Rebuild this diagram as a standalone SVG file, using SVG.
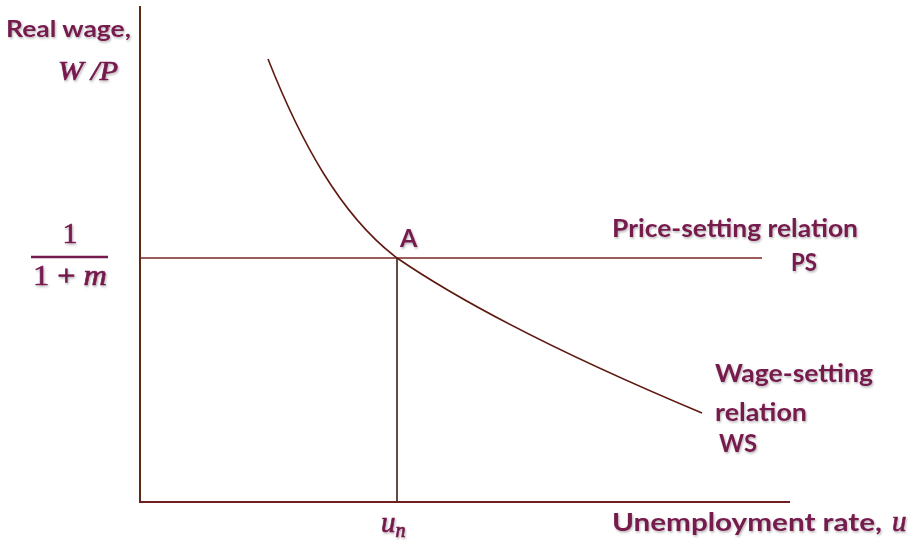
<svg xmlns="http://www.w3.org/2000/svg" width="917" height="557" viewBox="0 0 917 557">
<defs>
<filter id="sh" x="-5%" y="-20%" width="110%" height="150%">
<feDropShadow dx="1" dy="1.5" stdDeviation="0.8" flood-color="#000" flood-opacity="0.3"/>
</filter>
</defs>
<style>
.lbl{font-family:Lato,"Open Sans","Liberation Sans",sans-serif;font-weight:bold;fill:#751a4d;filter:url(#sh)}
.math{font-family:"Liberation Serif","DejaVu Serif",serif;fill:#751a4d;stroke:#751a4d;stroke-width:0.7;filter:url(#sh)}
.ax{stroke:#5c2a10;stroke-width:2;fill:none}
.ln{stroke:#7a2424;stroke-width:1.5;fill:none}
.cv{stroke:#5e1a10;stroke-width:1.6;fill:none}
</style>
<rect width="917" height="557" fill="#fff"/>
<g id="axes">
<line class="ax" x1="140" y1="6" x2="140" y2="503"/>
<line class="ax" x1="139" y1="502" x2="790" y2="502" style="stroke:#6e2020"/>
</g>
<g id="connectors">
<line id="ps-line" class="ln" x1="140" y1="258" x2="762" y2="258"/>
<line id="un-line" class="ax" style="stroke-width:1.6;stroke:#3a2010" x1="397" y1="258" x2="397" y2="501"/>
<path id="ws-curve" class="cv" d="M268,59 C300,140 340,215 397,258 C470,308 580,362 702,413"/>
</g>
<g id="y-label">
<text class="lbl" x="6" y="37" font-size="23" textLength="125" lengthAdjust="spacingAndGlyphs">Real wage,</text>
<text class="math" x="58" y="80" font-size="28" font-style="italic" textLength="60" lengthAdjust="spacingAndGlyphs">W /P</text>
</g>
<g id="ps-level">
<text class="math" x="70" y="243" font-size="30" text-anchor="middle">1</text>
<line x1="31" y1="257" x2="108" y2="257" stroke="#751a4d" stroke-width="2.5"/>
<text class="math" x="33" y="285" font-size="30" textLength="74" lengthAdjust="spacingAndGlyphs">1 + <tspan font-style="italic">m</tspan></text>
</g>
<g id="point-A">
<text class="lbl" x="400" y="247" font-size="25">A</text>
</g>
<g id="ps-label">
<text class="lbl" x="612" y="237" font-size="25" textLength="246" lengthAdjust="spacingAndGlyphs">Price-setting relation</text>
<text class="lbl" x="791" y="271" font-size="25" textLength="26" lengthAdjust="spacingAndGlyphs">PS</text>
</g>
<g id="ws-label">
<text class="lbl" x="715" y="382" font-size="25" textLength="158" lengthAdjust="spacingAndGlyphs">Wage-setting</text>
<text class="lbl" x="715" y="421" font-size="25" textLength="92" lengthAdjust="spacingAndGlyphs">relation</text>
<text class="lbl" x="719" y="452" font-size="25" textLength="38" lengthAdjust="spacingAndGlyphs">WS</text>
</g>
<g id="x-label">
<text class="math" x="381" y="532" font-size="29" font-style="italic">u<tspan font-size="20" dy="5">n</tspan></text>
<text class="lbl" x="612" y="531" font-size="25" textLength="270" lengthAdjust="spacingAndGlyphs">Unemployment rate,</text>
<text class="math" x="892" y="531" font-size="29" font-style="italic">u</text>
</g>
</svg>
